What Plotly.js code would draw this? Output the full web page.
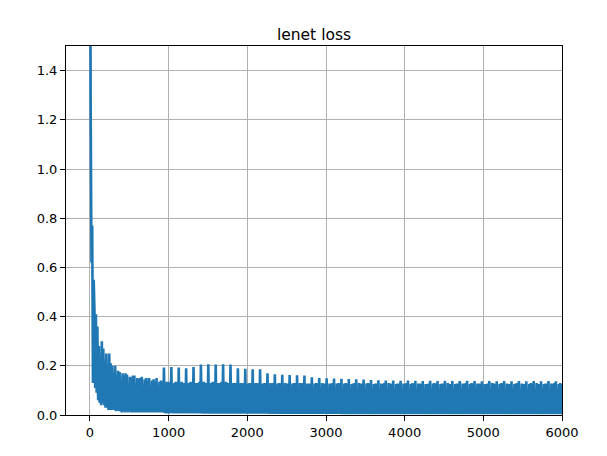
<!DOCTYPE html>
<html>
<head>
<meta charset="utf-8">
<script src="https://cdn.plot.ly/plotly-3.0.1.min.js"></script>
<style>
  html, body { margin: 0; padding: 0; background: #ffffff; }
  #chart { width: 607px; height: 456px; }
</style>
</head>
<body>
<div id="chart"></div>
<script>
// Logged training loss, sampled 10 points per epoch (one row per epoch).
const EPOCH_LENGTH = 94;        // log steps per epoch
const SAMPLES_PER_EPOCH = 10;

const loss = [
  2.30, 1.20, 0.62, 0.77, 0.13, 0.55, 0.43, 0.11, 0.41, 0.09,
  0.36, 0.06, 0.28, 0.05, 0.24, 0.04, 0.30, 0.05, 0.27, 0.04,
  0.22, 0.03, 0.25, 0.03, 0.19, 0.02, 0.25, 0.02, 0.21, 0.02,
  0.20, 0.02, 0.17, 0.02, 0.20, 0.015, 0.16, 0.02, 0.18, 0.015,
  0.175, 0.015, 0.13, 0.01, 0.17, 0.015, 0.16, 0.01, 0.17, 0.015,
  0.165, 0.01, 0.12, 0.015, 0.155, 0.01, 0.15, 0.01, 0.16, 0.01,
  0.16, 0.01, 0.11, 0.01, 0.15, 0.01, 0.145, 0.01, 0.15, 0.01,
  0.155, 0.01, 0.11, 0.01, 0.145, 0.01, 0.15, 0.01, 0.14, 0.01,
  0.15, 0.01, 0.10, 0.01, 0.14, 0.01, 0.145, 0.01, 0.135, 0.01,
  0.15, 0.01, 0.10, 0.01, 0.135, 0.01, 0.14, 0.01, 0.13, 0.01,
  0.193, 0.008, 0.09, 0.006, 0.135, 0.008, 0.13, 0.006, 0.135, 0.007,
  0.195, 0.007, 0.09, 0.006, 0.13, 0.007, 0.135, 0.006, 0.13, 0.007,
  0.193, 0.006, 0.092, 0.007, 0.135, 0.006, 0.13, 0.007, 0.13, 0.006,
  0.19, 0.006, 0.09, 0.006, 0.13, 0.007, 0.135, 0.006, 0.13, 0.006,
  0.195, 0.006, 0.09, 0.006, 0.13, 0.006, 0.13, 0.006, 0.135, 0.006,
  0.205, 0.006, 0.09, 0.005, 0.135, 0.006, 0.13, 0.005, 0.13, 0.006,
  0.206, 0.005, 0.088, 0.006, 0.13, 0.005, 0.135, 0.006, 0.13, 0.005,
  0.205, 0.005, 0.09, 0.005, 0.13, 0.006, 0.13, 0.005, 0.135, 0.005,
  0.206, 0.005, 0.088, 0.005, 0.135, 0.005, 0.13, 0.006, 0.13, 0.005,
  0.205, 0.005, 0.09, 0.006, 0.13, 0.005, 0.13, 0.005, 0.13, 0.005,
  0.19, 0.005, 0.088, 0.005, 0.13, 0.005, 0.128, 0.005, 0.13, 0.005,
  0.188, 0.005, 0.09, 0.005, 0.128, 0.005, 0.13, 0.005, 0.128, 0.005,
  0.186, 0.005, 0.088, 0.005, 0.13, 0.005, 0.128, 0.005, 0.13, 0.005,
  0.186, 0.005, 0.09, 0.005, 0.128, 0.005, 0.13, 0.005, 0.128, 0.005,
  0.17, 0.005, 0.088, 0.004, 0.13, 0.005, 0.128, 0.004, 0.13, 0.005,
  0.166, 0.004, 0.09, 0.005, 0.128, 0.004, 0.13, 0.005, 0.128, 0.004,
  0.164, 0.004, 0.088, 0.004, 0.13, 0.004, 0.128, 0.004, 0.128, 0.004,
  0.163, 0.004, 0.09, 0.004, 0.128, 0.004, 0.13, 0.004, 0.128, 0.004,
  0.162, 0.004, 0.088, 0.004, 0.13, 0.004, 0.128, 0.004, 0.13, 0.004,
  0.16, 0.004, 0.09, 0.004, 0.128, 0.004, 0.128, 0.004, 0.128, 0.004,
  0.153, 0.004, 0.09, 0.004, 0.128, 0.004, 0.13, 0.004, 0.128, 0.004,
  0.15, 0.004, 0.09, 0.004, 0.13, 0.004, 0.128, 0.004, 0.128, 0.004,
  0.149, 0.004, 0.09, 0.004, 0.128, 0.004, 0.128, 0.004, 0.13, 0.004,
  0.148, 0.004, 0.09, 0.004, 0.128, 0.004, 0.13, 0.004, 0.128, 0.004,
  0.147, 0.003, 0.092, 0.004, 0.128, 0.003, 0.13, 0.004, 0.126, 0.003,
  0.146, 0.004, 0.094, 0.003, 0.126, 0.004, 0.128, 0.003, 0.13, 0.004,
  0.145, 0.003, 0.092, 0.004, 0.13, 0.003, 0.126, 0.004, 0.128, 0.003,
  0.144, 0.004, 0.095, 0.003, 0.128, 0.004, 0.13, 0.003, 0.126, 0.004,
  0.142, 0.003, 0.094, 0.004, 0.126, 0.003, 0.128, 0.004, 0.128, 0.003,
  0.141, 0.004, 0.096, 0.003, 0.128, 0.004, 0.126, 0.003, 0.13, 0.004,
  0.14, 0.003, 0.095, 0.004, 0.13, 0.003, 0.128, 0.004, 0.126, 0.003,
  0.14, 0.004, 0.097, 0.003, 0.126, 0.004, 0.128, 0.003, 0.128, 0.004,
  0.139, 0.003, 0.096, 0.004, 0.128, 0.003, 0.126, 0.004, 0.13, 0.003,
  0.14, 0.004, 0.098, 0.003, 0.126, 0.004, 0.13, 0.003, 0.126, 0.004,
  0.139, 0.003, 0.097, 0.004, 0.128, 0.003, 0.128, 0.004, 0.126, 0.003,
  0.138, 0.004, 0.098, 0.003, 0.126, 0.004, 0.126, 0.003, 0.128, 0.004,
  0.139, 0.003, 0.097, 0.004, 0.128, 0.003, 0.13, 0.004, 0.126, 0.003,
  0.138, 0.004, 0.099, 0.003, 0.126, 0.004, 0.128, 0.003, 0.128, 0.004,
  0.139, 0.003, 0.098, 0.004, 0.13, 0.003, 0.126, 0.004, 0.126, 0.003,
  0.138, 0.004, 0.10, 0.003, 0.126, 0.004, 0.128, 0.003, 0.128, 0.004,
  0.138, 0.003, 0.098, 0.004, 0.128, 0.003, 0.126, 0.004, 0.13, 0.003,
  0.139, 0.004, 0.10, 0.003, 0.126, 0.004, 0.13, 0.003, 0.126, 0.004,
  0.138, 0.003, 0.099, 0.004, 0.128, 0.003, 0.128, 0.004, 0.126, 0.003,
  0.137, 0.004, 0.10, 0.003, 0.126, 0.004, 0.126, 0.003, 0.128, 0.004,
  0.138, 0.003, 0.099, 0.004, 0.13, 0.003, 0.128, 0.004, 0.126, 0.003,
  0.137, 0.004, 0.10, 0.003, 0.126, 0.004, 0.13, 0.003, 0.128, 0.004,
  0.138, 0.003, 0.10, 0.004, 0.128, 0.003, 0.126, 0.004, 0.126, 0.003,
  0.137, 0.004, 0.101, 0.003, 0.126, 0.004, 0.128, 0.003, 0.13, 0.004,
  0.138, 0.003, 0.10, 0.004, 0.128, 0.003, 0.126, 0.004, 0.126, 0.003,
  0.137, 0.004, 0.101, 0.003, 0.126, 0.004, 0.13, 0.003, 0.128, 0.004,
  0.138, 0.003, 0.10, 0.004, 0.13, 0.003, 0.126, 0.004, 0.126, 0.003,
  0.137, 0.004, 0.101, 0.003, 0.126, 0.004, 0.128, 0.003, 0.128, 0.004,
  0.138, 0.003, 0.10, 0.004, 0.128, 0.003, 0.126, 0.004, 0.13, 0.003,
  0.137, 0.004, 0.101, 0.003, 0.126, 0.004, 0.13, 0.003, 0.126, 0.004
];

const iterations = loss.map((_, i) => i * EPOCH_LENGTH / SAMPLES_PER_EPOCH);

const xTickVals = [0, 1000, 2000, 3000, 4000, 5000, 6000];
const xTickText = ['0', '1000', '2000', '3000', '4000', '5000', '6000'];
const yTickVals = [0.0, 0.2, 0.4, 0.6, 0.8, 1.0, 1.2, 1.4];
const yTickText = ['0.0', '0.2', '0.4', '0.6', '0.8', '1.0', '1.2', '1.4'];

const FONT = 'DejaVu Sans, Liberation Sans, sans-serif';

const trace = {
  type: 'scatter',
  mode: 'lines',
  x: iterations,
  y: loss,
  line: { color: '#1f77b4', width: 2.6, simplify: false },
  hoverinfo: 'skip',
  showlegend: false
};

const axisCommon = {
  showgrid: true,
  gridcolor: '#b0b0b0',
  gridwidth: 1,
  zeroline: false,
  showline: true,
  linecolor: '#000000',
  linewidth: 1,
  mirror: true,
  ticks: 'outside',
  ticklen: 5,
  tickwidth: 1,
  tickcolor: '#000000',
  tickfont: { family: FONT, size: 13, color: '#000000' },
  fixedrange: true
};

const layout = {
  width: 607,
  height: 456,
  margin: { l: 66, r: 45, t: 46, b: 41, pad: 0 },
  paper_bgcolor: '#ffffff',
  plot_bgcolor: '#ffffff',
  font: { family: FONT, color: '#000000' },
  title: {
    text: 'lenet loss',
    font: { family: FONT, size: 15.5, color: '#000000' },
    x: 0.5, xref: 'paper', xanchor: 'center',
    y: 1, yref: 'paper', yanchor: 'bottom',
    pad: { b: 6 }
  },
  xaxis: Object.assign({}, axisCommon, {
    range: [-305, 6000],
    tickmode: 'array',
    tickvals: xTickVals,
    ticktext: xTickText
  }),
  yaxis: Object.assign({}, axisCommon, {
    range: [0, 1.5],
    tickmode: 'array',
    tickvals: yTickVals,
    ticktext: yTickText
  })
};

Plotly.newPlot('chart', [trace], layout, { staticPlot: true, displayModeBar: false });
</script>
</body>
</html>
